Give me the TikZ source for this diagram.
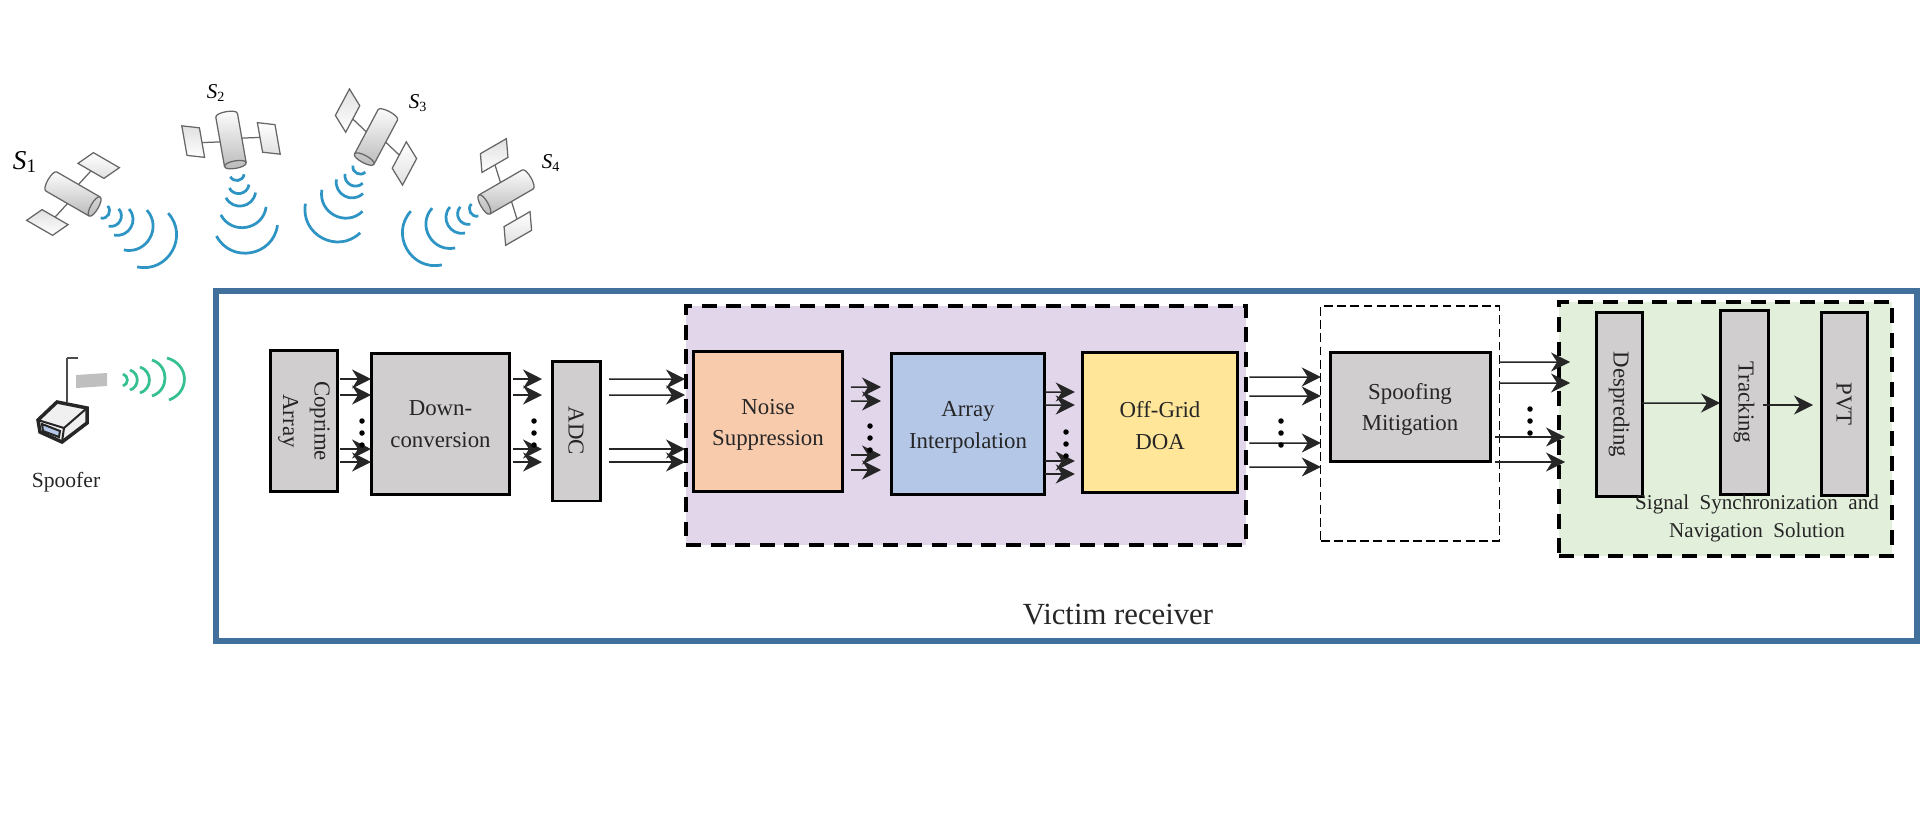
\documentclass[tikz,border=0pt]{standalone}
\usepackage{fontspec}
\setmainfont{Liberation Serif}
\usepackage{xcolor}
\usepackage{tikz}
\usetikzlibrary{calc}
\usetikzlibrary{arrows.meta}

\definecolor{framecol}{HTML}{41709C}
\definecolor{graycol}{HTML}{D0CECE}
\definecolor{noisecol}{HTML}{F8CBAD}
\definecolor{arraycol}{HTML}{B4C7E7}
\definecolor{doacol}{HTML}{FFE699}
\definecolor{purplecol}{HTML}{E2D6EB}
\definecolor{greencol}{HTML}{E2EFDA}
\definecolor{wavecol}{HTML}{2E94C4}
\definecolor{spoofcol}{HTML}{35C08F}

\tikzset{
	block/.style={rectangle,draw=black,line width=0.06cm,outer sep=0pt,inner sep=0pt,align=center,font=\fontsize{13}{18}\selectfont,text=black!85},
	grayblock/.style={block,fill=graycol},
	zone/.style={rectangle,draw=black,line width=0.07cm,dash pattern=on 8.5pt off 5.5pt,outer sep=0pt},
	bus/.style={->,line width=0.03cm,black!85},
	sat/.style={draw=black!60,line width=0.025cm},
	wave/.style={draw=wavecol,line width=0.055cm},
	airwave/.style={draw=spoofcol,line width=0.055cm},
	pics/busdots/.style={code={
		\fill (0,-12) circle [radius=0.055cm];
		\fill (0,0) circle [radius=0.055cm];
		\fill (0,12) circle [radius=0.055cm];
	}},
	pics/satellite/.style={code={
		\draw [wave] (36,-7) to [bend left=72,looseness=1.3] (36,7);
		\draw [wave] (47,-10) to [bend left=72,looseness=1.3] (47,10);
		\draw [wave] (56,-15) to [bend left=72,looseness=1.3] (56,15);
		\draw [wave] (72,-23) to [bend left=72,looseness=1.3] (72,23);
		\draw [wave] (92,-31) to [bend left=72,looseness=1.3] (92,31);
		\draw [sat] (0,-11) -- ({#1/2},-29);
		\draw [sat] (0,11) -- ({-#1/2},29);
		\draw [sat,top color=white,bottom color=black!12] ({1.5*#1-15},-46) -- ({1.5*#1+15},-46) -- ({#1/2+15},-29) -- ({#1/2-15},-29) -- cycle;
		\draw [sat,top color=black!12,bottom color=white] ({-1.5*#1-15},46) -- ({-1.5*#1+15},46) -- ({-#1/2+15},29) -- ({-#1/2-15},29) -- cycle;
		\draw [sat,top color=white,bottom color=black!28] (-25,-11) -- (25,-11) .. controls (30,-11) and (30,11) .. (25,11) -- (-25,11) .. controls (-30,11) and (-30,-11) .. (-25,-11) -- cycle;
		\draw [sat] (25,-11) .. controls (20,-11) and (20,11) .. (25,11);
	}}
}

\begin{document}
\begin{tikzpicture}[x=0.02cm,y=-0.02cm,>={Stealth[length=0.38cm,width=0.38cm,inset=0.12cm]}]
		\useasboundingbox (0,0) rectangle (1920,816);

		%satellites
		\pic [rotate=-30] (sat1) at (73,194) {satellite=8};
		\pic [rotate=-80] (sat2) at (231,140) {satellite=5};
		\pic [rotate=-118] (sat3) at (376,137) {satellite=10};
		\pic [rotate=210] (sat4) at (506,192) {satellite=8};
		\node (s1) at (25,162) [font=\fontsize{15.5}{18}\selectfont] {\textit{S}\textsubscript{1}};
		\node (s2) at (216,93) [font=\fontsize{12}{14}\selectfont] {\textit{S}\textsubscript{2}};
		\node (s3) at (418,103) [font=\fontsize{12}{14}\selectfont] {\textit{S}\textsubscript{3}};
		\node (s4) at (551,163) [font=\fontsize{12}{14}\selectfont] {\textit{S}\textsubscript{4}};

		%spoofer
		\draw [line width=0.05cm,black!70] (67,358) -- (67,402);
		\draw [line width=0.03cm,black!70] (67,358) -- (78,358);
		\fill [black!25] (76,375) -- (107,373) -- (107,386) -- (76,388) -- cycle;
		\draw [line width=0.07cm,black!85,fill=black!6] (38,420) -- (57,402) -- (87,408) -- (87,423) -- (62,442) -- (40,432) -- cycle;
		\draw [line width=0.04cm,black!85] (38,420) -- (64,428) -- (87,408);
		\draw [line width=0.04cm,black!85] (64,428) -- (62,442);
		\draw [line width=0.04cm,black!85,fill=arraycol] (42,424) -- (60,431) -- (59,437) -- (43,431) -- cycle;
		\draw [airwave] (123,374) to [bend left=72,looseness=1.3] (123,386);
		\draw [airwave] (130,370) to [bend left=72,looseness=1.3] (130,390);
		\draw [airwave] (140,367) to [bend left=72,looseness=1.3] (140,393);
		\draw [airwave] (152,360) to [bend left=72,looseness=1.3] (152,396);
		\draw [airwave] (167,358) to [bend left=72,looseness=1.4] (169,400);
		\node (spoofer) at (66,482) [font=\fontsize{12.3}{14}\selectfont,text=black!85] {Spoofer};

		%zones
		\node at (1066.5,466) (frame) [rectangle,draw=framecol,line width=0.11cm,minimum width=34.02cm,minimum height=7cm] {};
		\node at (966,425.5) (suppression) [zone,fill=purplecol,minimum width=11.2cm,minimum height=4.78cm] {};
		\node at (1410,423.5) (mitigation) [rectangle,draw=black,line width=0.025cm,dash pattern=on 5pt off 2.5pt,outer sep=0pt,minimum width=3.57cm,minimum height=4.7cm] {};
		\node at (1725.5,429) (sync) [zone,fill=greencol,minimum width=6.66cm,minimum height=5.08cm] {};

		%elements
		\node at (304,421) (coprime) [grayblock,rotate=-90,minimum width=2.84cm,minimum height=1.34cm] {Coprime\\Array};
		\node at ($(coprime.center)+(136.5,3)$) (down) [grayblock,minimum width=2.78cm,minimum height=2.84cm] {Down-\\conversion};
		\node at ($(down.center)+(135.5,7)$) (adc) [grayblock,rotate=-90,minimum width=2.8cm,minimum height=0.96cm] {ADC};
		\node at ($(adc.center)+(192,-9.5)$) (noise) [block,fill=noisecol,minimum width=3cm,minimum height=2.82cm] {\strut Noise\\Suppression};
		\node at ($(noise.center)+(200,2.5)$) (array) [block,fill=arraycol,minimum width=3.08cm,minimum height=2.84cm] {\strut Array\\Interpolation};
		\node at ($(array.center)+(192,-1.5)$) (doa) [block,fill=doacol,minimum width=3.09cm,minimum height=2.82cm] {\strut Off-Grid\\DOA};
		\node at ($(doa.center)+(250,-16)$) (spoofing) [grayblock,minimum width=3.2cm,minimum height=2.18cm] {\strut Spoofing\\Mitigation};
		\node at (1619,404.5) (despreding) [grayblock,rotate=-90,minimum width=3.7cm,minimum height=0.92cm] {Despreding};
		\node at ($(despreding.center)+(125,-2)$) (tracking) [grayblock,rotate=-90,minimum width=3.7cm,minimum height=0.96cm] {Tracking};
		\node at ($(tracking.center)+(100,1.5)$) (pvt) [grayblock,rotate=-90,minimum width=3.68cm,minimum height=0.92cm] {PVT};

		%text
		\node at (1757,518.5) (synctext) [align=center,font=\fontsize{12}{15.5}\selectfont,text=black!85] {Signal\ \ Synchronization\ \ and\\Navigation\ \ Solution};
		\node at (1118,615) (victim) [font=\fontsize{17.5}{20}\selectfont,text=black!85] {Victim receiver};

		%arrows
		\draw [bus] ($(coprime.north)+(3,-42)$) -- ($(down.west)+(0,-45)$);
		\draw [bus] ($(coprime.north)+(3,-26)$) -- ($(down.west)+(0,-29)$);
		\draw [bus] ($(coprime.north)+(3,28)$) -- ($(down.west)+(0,25)$);
		\draw [bus] ($(coprime.north)+(3,41)$) -- ($(down.west)+(0,38)$);
		\pic at (362,433) {busdots};

		\draw [bus] ($(down.east)+(3,-45)$) -- ($(adc.south)+(-10,-52)$);
		\draw [bus] ($(down.east)+(3,-29)$) -- ($(adc.south)+(-10,-36)$);
		\draw [bus] ($(down.east)+(3,25)$) -- ($(adc.south)+(-10,18)$);
		\draw [bus] ($(down.east)+(3,38)$) -- ($(adc.south)+(-10,31)$);
		\pic at (534,433) {busdots};

		\draw [bus] ($(adc.north)+(9,-52)$) -- ($(noise.west)+(-8,-42.5)$);
		\draw [bus] ($(adc.north)+(9,-36)$) -- ($(noise.west)+(-8,-26.5)$);
		\draw [bus] ($(adc.north)+(9,18)$) -- ($(noise.west)+(-8,27.5)$);
		\draw [bus] ($(adc.north)+(9,31)$) -- ($(noise.west)+(-8,40.5)$);

		\draw [bus] ($(noise.east)+(8,-34.5)$) -- ($(array.west)+(-10,-37)$);
		\draw [bus] ($(noise.east)+(8,-20.5)$) -- ($(array.west)+(-10,-23)$);
		\draw [bus] ($(noise.east)+(8,33.5)$) -- ($(array.west)+(-10,31)$);
		\draw [bus] ($(noise.east)+(8,48.5)$) -- ($(array.west)+(-10,46)$);
		\pic at (870,438) {busdots};

		\draw [bus] ($(array.east)+(0,-32)$) -- ($(doa.west)+(-8,-30.5)$);
		\draw [bus] ($(array.east)+(0,-19)$) -- ($(doa.west)+(-8,-17.5)$);
		\draw [bus] ($(array.east)+(0,37)$) -- ($(doa.west)+(-8,38.5)$);
		\draw [bus] ($(array.east)+(0,50)$) -- ($(doa.west)+(-8,51.5)$);
		\pic at (1066,444) {busdots};

		\draw [bus] ($(doa.east)+(12,-45.5)$) -- ($(mitigation.west)+(0,-46.5)$);
		\draw [bus] ($(doa.east)+(12,-26.5)$) -- ($(mitigation.west)+(0,-27.5)$);
		\draw [bus] ($(doa.east)+(12,20.5)$) -- ($(mitigation.west)+(0,19.5)$);
		\draw [bus] ($(doa.east)+(12,44.5)$) -- ($(mitigation.west)+(0,43.5)$);
		\pic at (1281,433) {busdots};

		\draw [bus] ($(spoofing.east)+(9,-44.5)$) -- ($(sync.west)+(11,-67)$);
		\draw [bus] ($(spoofing.east)+(9,-23.5)$) -- ($(sync.west)+(11,-46)$);
		\draw [bus] ($(spoofing.east)+(5,30.5)$) -- ($(sync.west)+(6,8)$);
		\draw [bus] ($(spoofing.east)+(5,55.5)$) -- ($(sync.west)+(6,33)$);
		\pic at (1530,421) {busdots};

		\draw [bus] ($(despreding.north)+(0,-1.5)$) -- ($(tracking.south)+(0,0.5)$);
		\draw [bus] ($(tracking.north)+(-5,2.5)$) -- ($(pvt.south)+(-8,1)$);
\end{tikzpicture}
\end{document}
